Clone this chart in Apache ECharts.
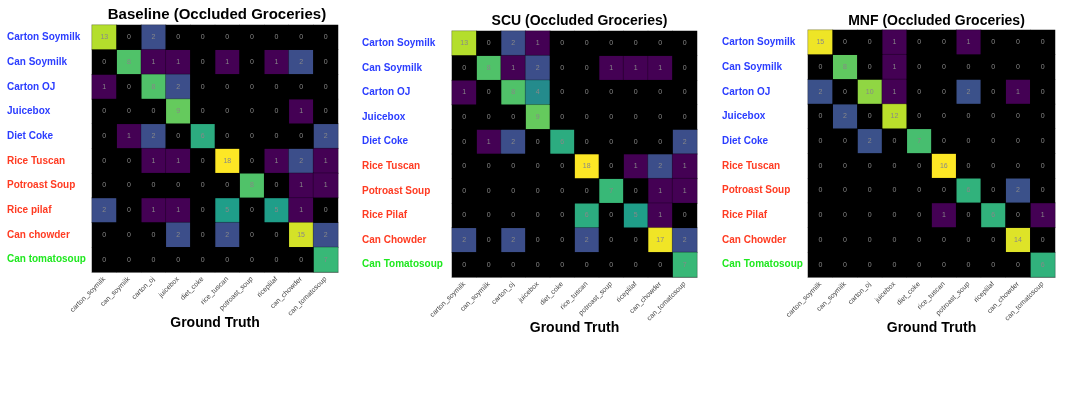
<!DOCTYPE html>
<html><head><meta charset="utf-8">
<script src="https://cdn.jsdelivr.net/npm/echarts@6/dist/echarts.min.js"></script>
<style>html,body{margin:0;padding:0;background:#fff}#c{width:1075px;height:393px}</style>
</head><body><div id="c"></div>
<script>
const xCats = ['carton_soymilk','can_soymilk','carton_oj','juicebox','diet_coke','rice_tuscan','potroast_soup','riceplilaf','can_chowder','can_tomatosoup'];
const yCatsBaseline = ['Carton Soymilk','Can Soymilk','Carton OJ','Juicebox','Diet Coke','Rice Tuscan','Potroast Soup','Rice pilaf','Can chowder','Can tomatosoup'];
const yCatsOther = ['Carton Soymilk','Can Soymilk','Carton OJ','Juicebox','Diet Coke','Rice Tuscan','Potroast Soup','Rice Pilaf','Can Chowder','Can Tomatosoup'];
const labelGroup = ['blue','blue','blue','blue','blue','red','red','red','red','green'];

const baseline = [
  [13,0,2,0,0,0,0,0,0,0],
  [0,8,1,1,0,1,0,1,2,0],
  [1,0,8,2,0,0,0,0,0,0],
  [0,0,0,9,0,0,0,0,1,0],
  [0,1,2,0,6,0,0,0,0,2],
  [0,0,1,1,0,18,0,1,2,1],
  [0,0,0,0,0,0,8,0,1,1],
  [2,0,1,1,0,5,0,5,1,0],
  [0,0,0,2,0,2,0,0,15,2],
  [0,0,0,0,0,0,0,0,0,7]
];
const scu = [
  [13,0,2,1,0,0,0,0,0,0],
  [0,8,1,2,0,0,1,1,1,0],
  [1,0,8,4,0,0,0,0,0,0],
  [0,0,0,9,0,0,0,0,0,0],
  [0,1,2,0,6,0,0,0,0,2],
  [0,0,0,0,0,18,0,1,2,1],
  [0,0,0,0,0,0,7,0,1,1],
  [0,0,0,0,0,6,0,5,1,0],
  [2,0,2,0,0,2,0,0,17,2],
  [0,0,0,0,0,0,0,0,0,7]
];
const mnf = [
  [15,0,0,1,0,0,1,0,0,0],
  [0,8,0,1,0,0,0,0,0,0],
  [2,0,10,1,0,0,2,0,1,0],
  [0,2,0,12,0,0,0,0,0,0],
  [0,0,2,0,7,0,0,0,0,0],
  [0,0,0,0,0,16,0,0,0,0],
  [0,0,0,0,0,0,6,0,2,0],
  [0,0,0,0,0,1,0,6,0,1],
  [0,0,0,0,0,0,0,0,14,0],
  [0,0,0,0,0,0,0,0,0,6]
];
const titles = ['Baseline (Occluded Groceries)','SCU (Occluded Groceries)','MNF (Occluded Groceries)'];

const groupColor = {blue:'#2b3dff', red:'#ff3b22', green:'#1fe81f'};
const viridis = ['#440154','#482878','#3e4989','#31688e','#26828e','#1f9e89','#35b779','#6ece58','#b5de2b','#fde725'];

const mats = [baseline, scu, mnf];
const yCatsList = [yCatsBaseline, yCatsOther, yCatsOther];
const grids = [
  {left:92, top:25, width:246, height:247, labelX:7, tSize:15, tTop:7, tShift:2},
  {left:452, top:31, width:245, height:246, labelX:362, tSize:14, tTop:14, tShift:5},
  {left:808, top:30, width:247, height:247, labelX:722, tSize:14, tTop:14, tShift:5}
];
const FONT = 'Liberation Sans, Arial, sans-serif';

const series = [];
const visualMap = [];
mats.forEach((m,i)=>{
  const nz=[], zr=[];
  m.forEach((row,r)=>row.forEach((v,c)=>{
    if (v>0) nz.push([c, r, Math.log(v), v]); else zr.push([c, r, v]);
  }));
  visualMap.push({
    type:'continuous', show:false, seriesIndex:series.length, dimension:2,
    min:0, max:Math.log(Math.max(...m.flat())), inRange:{color:viridis}
  });
  series.push({
    type:'heatmap', xAxisIndex:i, yAxisIndex:i, data:nz,
    label:{show:true, formatter:p=>p.value[3], fontSize:7, color:'#888', fontFamily:FONT},
    itemStyle:{borderColor:'rgba(0,0,0,0.25)', borderWidth:1},
    emphasis:{disabled:true}
  });
  series.push({
    type:'heatmap', xAxisIndex:i, yAxisIndex:i, data:zr,
    label:{show:true, formatter:p=>p.value[2], fontSize:7, color:'#888', fontFamily:FONT},
    itemStyle:{color:'#000'},
    emphasis:{disabled:true}
  });
});

const option = {
  backgroundColor:'#fff',
  animation:false,
  title: titles.map((t,i)=>({
    text:t, left: grids[i].left + grids[i].width/2 + grids[i].tShift, top: grids[i].tTop, textAlign:'center', padding:0,
    textStyle:{fontFamily:FONT, fontWeight:'bold', fontSize:grids[i].tSize, color:'#000'}
  })),
  grid: grids.map(g=>({left:g.left, top:g.top, width:g.width, height:g.height, backgroundColor:'#000', show:true, borderWidth:0})),
  xAxis: grids.map((g,i)=>({
    type:'category', gridIndex:i, data:xCats,
    name:'Ground Truth', nameLocation:'middle', nameGap:44, nameMoveOverlap:false,
    nameTextStyle:{fontFamily:FONT, fontWeight:'bold', fontSize:14, color:'#000'},
    axisLabel:{rotate:45, fontSize:7, color:'#444', margin:6, interval:0, fontFamily:FONT},
    axisTick:{alignWithLabel:true, length:3, lineStyle:{color:'#555'}},
    axisLine:{show:true, lineStyle:{color:'#999'}},
    splitLine:{show:false}
  })),
  yAxis: grids.map((g,i)=>({
    type:'category', gridIndex:i, data:yCatsList[i], inverse:true,
    axisLabel:{
      align:'left', margin:g.left - g.labelX, fontSize:10, fontWeight:'bold', interval:0,
      fontFamily:FONT,
      color:(v, idx)=>groupColor[labelGroup[idx]]
    },
    axisTick:{length:3, alignWithLabel:true, lineStyle:{color:'#555'}},
    axisLine:{show:false},
    splitLine:{show:false}
  })),
  visualMap,
  series
};
const chart = echarts.init(document.getElementById('c'), null, {renderer:'canvas'});
chart.setOption(option);
</script></body></html>
